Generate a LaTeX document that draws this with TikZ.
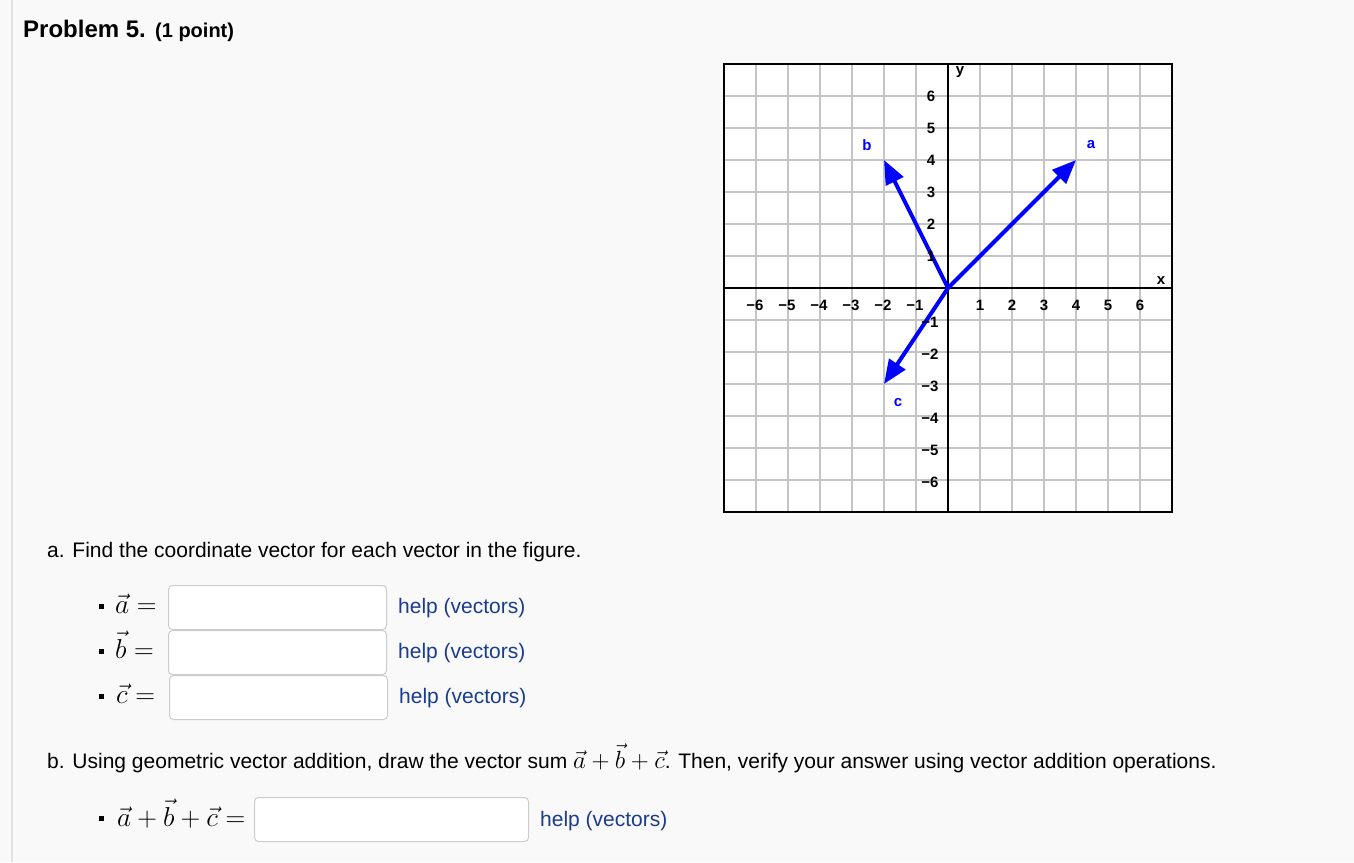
\documentclass[tikz,border=0pt]{standalone}
\usepackage{graphicx}
\usepackage{fontspec}
\setmainfont{Liberation Sans}
\usetikzlibrary{arrows.meta}
\definecolor{pagebg}{HTML}{F9F9F9}
\definecolor{edgec}{HTML}{E2E2E2}
\definecolor{gridc}{HTML}{C4C4C4}
\definecolor{helpc}{HTML}{1A3C8C}
\definecolor{vecblue}{HTML}{0000FF}
\definecolor{boxc}{HTML}{CCCCCC}
\newcommand{\bigmath}[1]{{\fontsize{24.88}{28}\selectfont$#1$}}
\newcommand{\itemmath}[1]{\scalebox{1.1}{\bigmath{#1}}}
\tikzset{
  ticklab/.style={font=\fontsize{15}{15}\selectfont\bfseries, inner sep=0pt},
  vlab/.style={font=\fontsize{15}{15}\selectfont\bfseries, text=vecblue, inner sep=0pt},
  vecarrow/.style={draw=vecblue, line width=4pt, -{Triangle[length=24pt,width=19pt]}},
  body/.style={font=\fontsize{21}{25}\selectfont, inner sep=0pt, anchor=base west},
  helplink/.style={body, text=helpc},
  ansbox/.style={draw=boxc, fill=white, rounded corners=4pt, line width=1pt, anchor=north west, minimum height=44pt, inner sep=0pt},
  bulletsq/.style={fill=black, minimum size=5pt, inner sep=0pt},
  gridline/.style={draw=gridc, line width=1.5pt},
}
\begin{document}
\begin{tikzpicture}[x=1pt,y=-1pt]
\useasboundingbox (0,0) rectangle (1354,862);
\fill[pagebg] (0,0) rectangle (1354,862);
\draw[edgec, line width=1.5pt] (12,0) -- (12,862);

% title
\node[anchor=base west, inner sep=0pt, font=\fontsize{24}{28}\selectfont\bfseries] (title) at (23,37) {Problem 5.};
\node[anchor=base west, inner sep=0pt, font=\fontsize{20}{24}\selectfont\bfseries] (points) at (155,37) {(1 point)};

% graph
\fill[white] (724,64) rectangle (1172,512);
\foreach \k in {1,...,13} {
  \draw[gridline] ({724+32*\k},64) -- ({724+32*\k},512);
  \draw[gridline] (724,{64+32*\k}) -- (1172,{64+32*\k});
}
\draw[black, line width=1.5pt] (724,64) rectangle (1172,512);
\draw[black, line width=1.5pt] (948,64) -- (948,512);
\draw[black, line width=1.5pt] (724,288) -- (1172,288);
\coordinate (O) at (948,288);
\coordinate (A) at (1076,160);
\coordinate (B) at (884,160);
\coordinate (C) at (884,384);

\draw[vecarrow] (O) -- (A);
\draw[vecarrow] (O) -- (B);
\draw[vecarrow] (O) -- (C);

\foreach \i in {-6,...,-1} {
  \node[ticklab] (xl\i) at ({948+32*\i-1},305) {−\the\numexpr-\i\relax};
}
\foreach \i in {1,...,6} {
  \node[ticklab] (xl\i) at ({948+32*\i},305) {\i};
}
\foreach \i in {1,...,6} {
  \node[ticklab] (yl\i) at (931,{288-32*\i}) {\i};
}
\foreach \i in {-6,...,-1} {
  \node[ticklab] (yl\i) at (930,{288-32*\i+2}) {−\the\numexpr-\i\relax};
}
\node[ticklab] (ylab) at (960,72) {y};
\node[ticklab] (xlab) at (1161,281) {x};

\node[vlab] (la) at (1091,145) {a};
\node[vlab] (lb) at (867,145) {b};
\node[vlab] (lc) at (898,403) {c};

% part a
\node[body] (pa) at (47,557) {a. Find the coordinate vector for each vector in the figure.};

\node[bulletsq] (b1) at (101,606) {};
\node[body] (ma) at (115,613) {\itemmath{\vec{a} =}};
\node[ansbox, minimum width=218pt] (boxa) at (168,585) {};
\node[helplink] (ha) at (398,613) {help (vectors)};

\node[bulletsq] (b2) at (101,651) {};
\node[body] (mb) at (115,658) {\itemmath{\vec{b} =}};
\node[ansbox, minimum width=218pt] (boxb) at (168,630) {};
\node[helplink] (hb) at (398,658) {help (vectors)};

\node[bulletsq] (b3) at (101,696) {};
\node[body] (mc) at (116,703) {\itemmath{\vec{c} =}};
\node[ansbox, minimum width=218pt] (boxc) at (169,675) {};
\node[helplink] (hc) at (399,703) {help (vectors)};

% part b
\node[body] (pb) at (47,768) {b. Using geometric vector addition, draw the vector sum \bigmath{\vec{a}+\vec{b}+\vec{c}}. Then, verify your answer using vector addition operations.};

\node[bulletsq] (b4) at (101,818) {};
\node[body] (ms) at (117,826) {\itemmath{\vec{a}+\vec{b}+\vec{c} =}};
\node[ansbox, minimum width=274pt] (boxs) at (254,797) {};
\node[helplink] (hs) at (540,826) {help (vectors)};
\end{tikzpicture}
\end{document}
